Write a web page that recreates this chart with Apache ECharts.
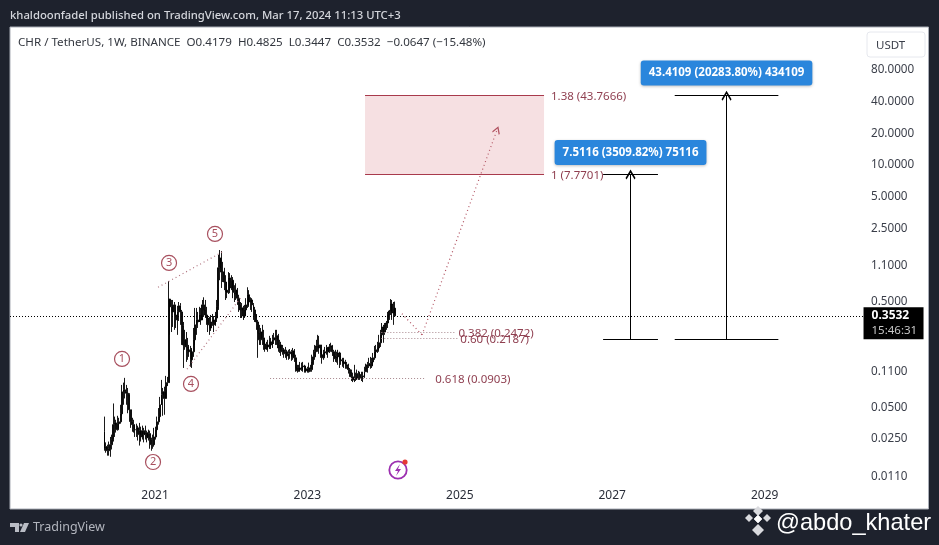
<!DOCTYPE html>
<html>
<head>
<meta charset="utf-8">
<title>CHR / TetherUS</title>
<style>
    html, body { margin: 0; padding: 0; background: #1e222d; }
    #chart { width: 939px; height: 545px; }
</style>
<script src="https://cdn.jsdelivr.net/npm/echarts@6/dist/echarts.min.js"></script>
</head>
<body>
<div id="chart"></div>
<script>
// weekly bars, first one 2020-05-04 (last bar from the header)
const first_open = 0.028;
const closes = [
    .0193, .0202, .0185, .0193, .0211, .0236, .0327, .034, .0293, .0334,
    .0348, .0415, .067, .07, .067, .065, .063, .0453, .0348, .0327,
    .0293, .0293, .0305, .0263, .0287, .025, .0287, .0263, .0275, .0246,
    .0269, .0236, .0211, .0211, .025, .0293, .0348, .039, .0505, .063,
    .067, .058, .078, .082, .51,
    .43, .385, .449, .36, .323, .385, .44, .385, .284, .187,
    .209, .179, .161, .168, .135, .161, .209, .29, .323, .309,
    .36, .323, .449, .402, .36, .337, .29, .271, .309, .323,
    .29, .337, .43, 1.01, 1.25, .92, .92, .74, .59, .62,
    .81, .65, .77, .59, .56, .62, .52, .449, .402, .42,
    .352, .402, .449, .56, .478, .50, .449, .402, .36, .309,
    .243, .209,
    .248, .218, .191, .171, .187, .179, .2, .187, .209, .218,
    .209, .228, .175, .187, .161, .168, .154, .161, .147, .154,
    .161, .144, .164, .141, .113, .106, .113, .109, .116, .118,
    .106, .111, .104, .113, .109, .129, .144, .161, .183, .175,
    .187, .151, .141, .157, .161, .175, .161, .179, .183, .161,
    .147, .138, .144, .157,
    .135, .132, .124, .129, .121, .116, .109, .104, .093, .087,
    .091, .089, .1, .098, .091, .093, .095, .104, .113, .121,
    .124, .118, .129, .141, .161, .168, .175, .196, .233, .277,
    .248, .29, .302, .36, .393, .458, .376, .4179, .3532
];
const highs = [
    .039, .0222, .0211, .0226, .025, .0263, .052, .039, .0364, .0397,
    .038, .0505, .078, .082, .091, .078, .073, .065, .0453, .038,
    .0364, .0327, .0334, .032, .034, .0313, .032, .0305, .032, .0287,
    .0293, .0287, .0246, .0263, .0305, .0313, .039, .047, .06, .087,
    .073, .075, .095, .093, .755,
    .51, .5, .5, .478, .402, .44, .478, .467, .402, .309,
    .26, .248, .218, .187, .183, .175, .271, .42, .42, .385,
    .43, .42, .5, .53, .5, .43, .352, .345, .36, .368,
    .352, .385, .5, 1.34, 1.49, 1.46, 1.15, 1.01, .86, .74,
    .92, .9, .86, .825, .69, .72, .65, .56, .478, .467,
    .44, .449, .52, .66, .62, .53, .52, .467, .43, .368,
    .323, .29,
    .271, .29, .26, .209, .2, .209, .228, .218, .233, .243,
    .26, .26, .238, .209, .2, .187, .175, .179, .168, .168,
    .171, .168, .175, .171, .151, .121, .121, .129, .127, .129,
    .121, .116, .116, .127, .121, .151, .168, .187, .209, .233,
    .228, .187, .168, .168, .179, .187, .179, .191, .196, .187,
    .168, .168, .161, .168,
    .161, .147, .141, .141, .135, .129, .124, .113, .109, .102,
    .121, .102, .109, .106, .104, .104, .104, .116, .124, .129,
    .141, .144, .141, .157, .183, .187, .2, .233, .26, .302,
    .29, .302, .316, .385, .402, .51, .5, .478, .4825
];
const lows = [
    .0185, .0177, .0166, .0166, .0162, .019, .0226, .025, .0275, .0287,
    .0305, .0334, .0397, .0505, .058, .0505, .042, .0348, .0305, .028,
    .0275, .025, .025, .0231, .0207, .0226, .0236, .0222, .0236, .0222,
    .0231, .0193, .0185, .0193, .0202, .0236, .028, .0327, .038, .0505,
    .0397, .0406, .067, .076, .082,
    .233, .248, .277, .26, .271, .233, .316, .29, .187, .113,
    .168, .129, .135, .144, .116, .113, .144, .187, .233, .271,
    .309, .29, .337, .345, .337, .29, .248, .233, .254, .284,
    .248, .284, .309, .402, .77, .65, .74, .62, .5, .52,
    .57, .58, .62, .52, .478, .5, .449, .385, .337, .337,
    .323, .337, .36, .42, .43, .402, .385, .323, .309, .26,
    .141, .187,
    .187, .187, .168, .161, .168, .161, .171, .171, .175, .191,
    .187, .187, .161, .157, .147, .151, .141, .141, .135, .135,
    .138, .132, .135, .129, .104, .102, .104, .104, .106, .104,
    .102, .102, .102, .102, .104, .104, .121, .135, .161, .161,
    .154, .141, .124, .135, .147, .151, .141, .157, .161, .147,
    .129, .129, .127, .121,
    .113, .121, .116, .113, .111, .111, .1, .093, .085, .083,
    .083, .085, .087, .087, .087, .085, .083, .091, .104, .102,
    .113, .111, .113, .121, .135, .147, .157, .161, .179, .209,
    .196, .233, .26, .271, .323, .36, .323, .29, .3447
];

const price_ticks = [80, 40, 20, 10, 5, 2.5, 1.1, 0.5, 0.11, 0.05, 0.025, 0.011];
const year_ticks = [2021, 2023, 2025, 2027, 2029];

// drawings, x in decimal years and y in price
const last_price = 0.3532;
const wave_labels = ["1", "2", "3", "4", "5"];
const wave_years = [2020.567, 2020.974, 2021.184, 2021.472, 2021.787];
const wave_prices = [0.1377, 0.01445, 1.123, 0.0797, 2.117];
const box_years = [2023.756, 2026.105];
const box_prices = [43.7666, 7.7701];
const box_labels = ["1.38 (43.7666)", "1 (7.7701)"];
const fib_prices = [0.2472, 0.2187, 0.0903];
const fib_labels = ["0.382 (0.2472)", "0.60 (0.2187)", "0.618 (0.0903)"];
const fib_starts = [2023.97, 2023.97, 2022.51];
const fib_ends = [2024.95, 2024.98, 2024.54];
const fib_text_years = [2024.975, 2025.0, 2024.67];
const measure_years = [2027.24, 2028.50];
const measure_lefts = [2026.88, 2027.82];
const measure_rights = [2027.6, 2029.18];
const measure_base = 0.2128;
const measure_tops = [7.7701, 43.6];
const measure_labels = ["7.5116 (3509.82%) 75116", "43.4109 (20283.80%) 434109"];
const measure_label_prices = [12.6, 71.5];

const YEAR = 365.25 * 24 * 3600 * 1000;
const WEEK = 7 * 24 * 3600 * 1000;
const year_time = function (y) { return Date.UTC(2021, 0, 1) + (y - 2021) * YEAR; };
const start_time = Date.UTC(2020, 4, 4);

const candle_data = closes.map(function (c, i) {
    const open = i === 0 ? first_open : closes[i - 1];
    return [start_time + i * WEEK, open, c, lows[i], highs[i]];
});

const FONT = '"Noto Sans", sans-serif';
const RED_TEXT = "#8f3f50";
const RED_LINE = "#a83a4c";
const DOT_LINE = "#a7878d";
const ARROW_OPEN = "path://M5 0 L10 6 L9 7 L5 2.2 L1 7 L0 6 Z";

// one segment of a markLine, in chart values
function seg(x1, y1, x2, y2, style, end_symbol, end_size) {
    return [
        { coord: [year_time(x1), y1], lineStyle: style, symbol: "none" },
        { coord: [year_time(x2), y2], symbol: end_symbol || "none", symbolSize: end_size || 10 }
    ];
}
const solid_black = { color: "#000", width: 1, type: "solid" };
const box_line = { color: RED_LINE, width: 1, type: "solid" };
const fib_line = { color: DOT_LINE, width: 1, type: [1, 2] };
const wave_line = { color: "#b0737f", width: 1.2, type: [1, 3] };
const plan_line = { color: "#b0505f", width: 1.2, type: [1, 3] };

let segments = [
    seg(box_years[0], box_prices[0], box_years[1], box_prices[0], box_line),
    seg(box_years[0], box_prices[1], box_years[1], box_prices[1], box_line),
    seg(2021.04, 0.66, 2021.9, 1.45, wave_line),
    seg(2021.42, 0.11, 2022.12, 0.52, wave_line),
    seg(2024.24, 0.37, 2024.504, 0.233, plan_line),
    seg(2024.504, 0.233, 2025.488, 20.6, plan_line, ARROW_OPEN, 8)
];
fib_prices.forEach(function (p, i) {
    segments.push(seg(fib_starts[i], p, fib_ends[i], p, fib_line));
});
measure_years.forEach(function (x, i) {
    segments.push(seg(x, measure_base, x, measure_tops[i], solid_black, ARROW_OPEN));
    segments.push(seg(measure_lefts[i], measure_base, measure_rights[i], measure_base, solid_black));
    segments.push(seg(measure_lefts[i], measure_tops[i], measure_rights[i], measure_tops[i], solid_black));
});

// text anchored to chart values
let text_points = [];
box_labels.forEach(function (t, i) {
    text_points.push({
        value: [year_time(2026.19), box_prices[i]],
        label: { show: true, formatter: t, position: "right", distance: 0, offset: [0, 1.5], color: RED_TEXT, fontSize: 11.5, fontFamily: FONT }
    });
});
fib_labels.forEach(function (t, i) {
    text_points.push({
        value: [year_time(fib_text_years[i]), fib_prices[i]],
        label: { show: true, formatter: t, position: "right", distance: 0, offset: [0, 1.5], color: RED_TEXT, fontSize: 11.5, fontFamily: FONT }
    });
});
measure_labels.forEach(function (t, i) {
    text_points.push({
        value: [year_time(measure_years[i]), measure_label_prices[i]],
        label: {
            show: true, formatter: t, position: "inside", color: "#fff", fontSize: 11.5, fontWeight: "bold", fontFamily: FONT,
            backgroundColor: "#2a86dc", borderRadius: 3, padding: [7, 8, 6, 8],
            shadowColor: "rgba(0,0,0,0.25)", shadowBlur: 3, shadowOffsetY: 1
        }
    });
});
text_points.push({
    value: [year_time(2030.291), last_price],
    label: {
        show: true, position: "right", distance: 0, offset: [0, 7.5],
        formatter: "{a|" + last_price.toFixed(4) + "}\n{b|15:46:31}",
        backgroundColor: "#000", padding: [1, 6, 1, 8],
        rich: {
            a: { color: "#fff", fontSize: 12, fontWeight: "bold", fontFamily: FONT, lineHeight: 15, width: 46 },
            b: { color: "#c8c8c8", fontSize: 11.5, fontFamily: FONT, lineHeight: 15, width: 46 }
        }
    }
});

const option = {
    backgroundColor: "#1e222d",
    animation: false,
    grid: { left: 10, right: 73, top: 27, bottom: 60 },
    xAxis: {
        type: "value",
        min: year_time(2019.097),
        max: year_time(2030.33),
        axisLine: { show: false },
        axisTick: { show: false },
        splitLine: { show: false },
        axisLabel: {
            customValues: year_ticks.map(function (y) { return Date.UTC(y, 0, 1); }),
            formatter: function (v) { return String(new Date(v).getUTCFullYear()); },
            color: "#2a2e39", fontSize: 12, fontFamily: FONT, margin: 5, hideOverlap: false
        }
    },
    yAxis: {
        type: "log",
        logBase: 2,
        position: "right",
        min: 0.00874,
        max: 195.6,
        axisLine: { show: false },
        axisTick: { show: false },
        splitLine: { show: false },
        axisLabel: {
            customValues: price_ticks,
            formatter: function (v) { return "{p|" + v.toFixed(4) + "}"; },
            margin: 5,
            rich: {
                p: { color: "#3a3e49", fontSize: 11.7, fontFamily: FONT, padding: [4, 0, 0, 0] }
            }
        }
    },
    series: [
        {
            name: "CHRUSDT",
            type: "candlestick",
            barWidth: 1.4,
            encode: { x: 0, y: [1, 2, 3, 4] },
            data: candle_data,
            itemStyle: { color: "#000", color0: "#000", borderColor: "#000", borderColor0: "#000", borderWidth: 0.9 },
            markArea: {
                silent: true,
                itemStyle: { color: "#f6e0e2" },
                data: [[
                    { coord: [year_time(box_years[0]), box_prices[0]] },
                    { coord: [year_time(box_years[1]), box_prices[1]] }
                ]]
            },
            markLine: {
                silent: true,
                symbol: ["none", "none"],
                label: { show: false },
                data: segments.concat([[
                    { coord: [year_time(2019.097), last_price], lineStyle: { color: "#000", width: 1, type: [1, 2] }, symbol: "none" },
                    { coord: [year_time(2030.33), last_price], symbol: "none" }
                ]])
            }
        },
        {
            name: "waves",
            type: "scatter",
            symbol: "circle",
            symbolSize: 15,
            z: 5,
            itemStyle: { color: "#fff", borderColor: "#a8505f", borderWidth: 1.2, opacity: 1 },
            label: { show: true, position: "inside", formatter: function (p) { return p.data[2]; }, color: "#a8505f", fontSize: 11, fontFamily: FONT },
            data: wave_labels.map(function (t, i) { return [year_time(wave_years[i]), wave_prices[i], t]; })
        },
        {
            name: "text",
            type: "scatter",
            symbolSize: 1,
            z: 6,
            itemStyle: { color: "transparent", opacity: 1 },
            data: text_points
        }
    ],
    graphic: [
        { type: "rect", z: -10, shape: { x: 10, y: 27, width: 918.5, height: 482 }, style: { fill: "#fff", stroke: "#a9adb6", lineWidth: 1 } },
        { type: "text", z: 10, style: { x: 10, y: 10, text: "khaldoonfadel published on TradingView.com, Mar 17, 2024 11:13 UTC+3", fill: "#d4d6dc", font: "500 11.3px " + FONT } },
        { type: "text", z: 10, style: { x: 18, y: 37, text: "CHR / TetherUS, 1W, BINANCE  O0.4179  H0.4825  L0.3447  C0.3532  \u22120.0647 (\u221215.48%)", fill: "#33373f", font: "11.6px " + FONT } },
        { type: "rect", z: 10, shape: { x: 867, y: 32, width: 58, height: 25, r: 3 }, style: { fill: "#fff", stroke: "#e6e8ee", lineWidth: 1 } },
        { type: "text", z: 11, style: { x: 876, y: 40, text: "USDT", fill: "#3a3e49", font: "11.5px " + FONT } },
        // bolt icon
        { type: "circle", z: 10, shape: { cx: 398, cy: 470, r: 8.7 }, style: { fill: "#fff", stroke: "#9c2fb0", lineWidth: 1.8 } },
        { type: "polygon", z: 11, shape: { points: [[400, 464], [395, 471], [398, 471], [396, 476], [401, 469], [398, 469]] }, style: { fill: "#9c2fb0" } },
        { type: "circle", z: 12, shape: { cx: 405, cy: 462, r: 2.6 }, style: { fill: "#e53935" } },
        // footer
        { type: "polygon", z: 10, shape: { points: [[10, 523], [19, 523], [19, 532], [15, 532], [15, 527], [10, 527]] }, style: { fill: "#b9bcc4" } },
        { type: "polygon", z: 10, shape: { points: [[24, 523], [29, 523], [25, 532], [20, 532]] }, style: { fill: "#b9bcc4" } },
        { type: "circle", z: 10, shape: { cx: 21, cy: 525, r: 1.6 }, style: { fill: "#b9bcc4" } },
        { type: "text", z: 10, style: { x: 33, y: 521, text: "TradingView", fill: "#b2b5bd", font: "12.5px " + FONT } },
        { type: "polygon", z: 10, shape: { points: [[758, 506], [763, 511], [758, 516], [753, 511]] }, style: { fill: "#d9dade" } },
        { type: "polygon", z: 10, shape: { points: [[758, 524], [764, 530], [758, 536], [752, 530]] }, style: { fill: "#d9dade" } },
        { type: "polygon", z: 10, shape: { points: [[749, 514], [753, 518], [749, 522], [745, 518]] }, style: { fill: "#d9dade" } },
        { type: "polygon", z: 10, shape: { points: [[767, 514], [771, 518], [767, 522], [763, 518]] }, style: { fill: "#d9dade" } },
        { type: "polygon", z: 10, shape: { points: [[758, 515], [762, 519], [758, 523], [754, 519]] }, style: { fill: "#fff", stroke: "#d9dade", lineWidth: 1 } },
        { type: "text", z: 10, style: { x: 776, y: 511, text: "@abdo_khater", fill: "#fff", font: "23.6px 'Liberation Sans', sans-serif" } }
    ]
};

const my_echart = echarts.init(document.getElementById("chart"));
my_echart.setOption(option);
window.addEventListener("resize", function () {
    my_echart.resize();
});
</script>
</body>
</html>
